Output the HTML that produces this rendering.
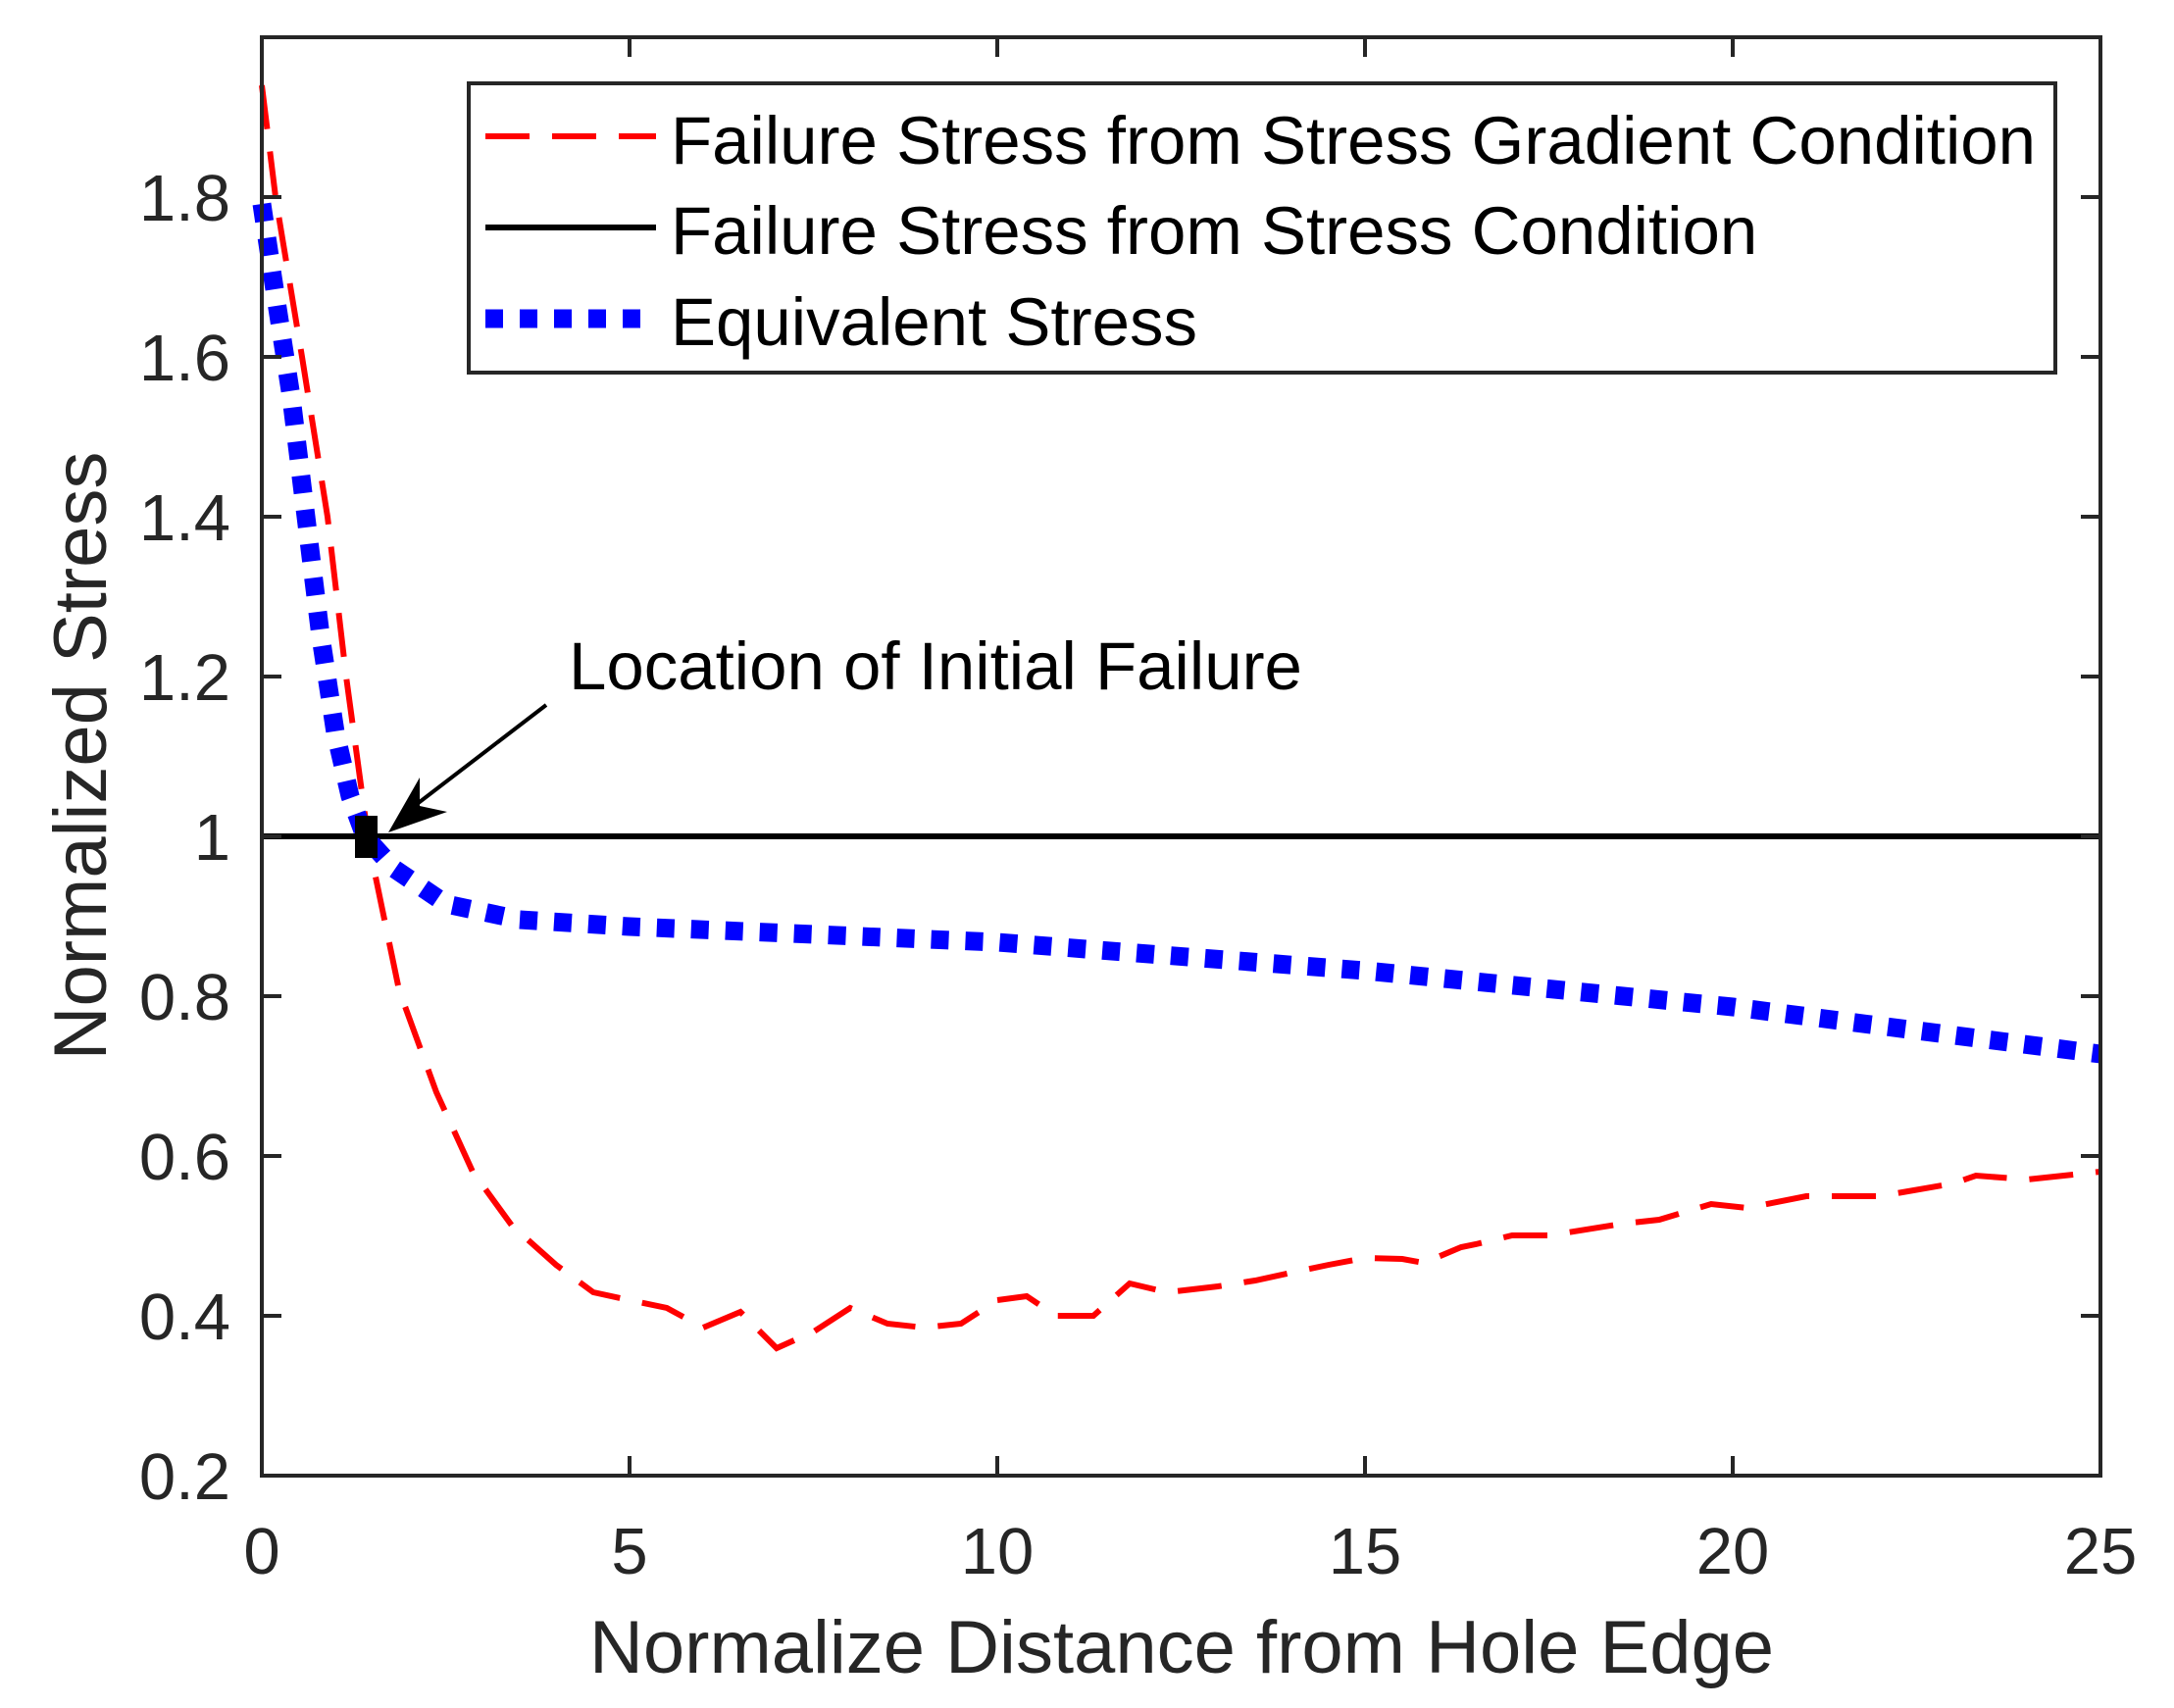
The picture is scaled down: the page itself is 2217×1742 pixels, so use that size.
<!DOCTYPE html>
<html><head><meta charset="utf-8"><style>html,body{margin:0;padding:0;background:#fff}svg{display:block}</style></head>
<body>
<svg width="2217" height="1742" viewBox="0 0 2217 1742" xmlns="http://www.w3.org/2000/svg" font-family="Liberation Sans, sans-serif">
<rect width="2217" height="1742" fill="#fff"/>
<polyline fill="none" stroke="#ff0000" stroke-width="6" stroke-dasharray="45 23"
 points="267,87 281,201 308,364 334,527 353,690 372,830 379,875 407,1010 445,1114 482,1195 522,1250 567,1290 605,1318 642,1326 680,1334 717,1354 755,1338 792,1375 830,1358 867,1334 905,1350 942,1354 980,1350 1017,1326 1047,1322 1077,1342 1115,1342 1152,1309 1190,1318 1242,1312 1280,1306 1317,1298 1355,1290 1392,1283 1430,1284 1452,1288 1490,1272 1505,1269 1542,1260 1580,1260 1655,1248 1692,1244 1745,1228 1782,1232 1842,1220 1917,1220 1992,1207 2015,1199 2067,1203 2142,1195"/>
<line x1="267" y1="853" x2="2142" y2="853" stroke="#000" stroke-width="6"/>
<polyline fill="none" stroke="#0000ff" stroke-width="19" stroke-dasharray="18 17"
 points="267,208 278,282 297,405 312,527 327,649 342,747 357,812 372,853 402,886 455,922 530,938 642,945 1017,961 1392,990 1767,1027 2142,1075"/>
<rect x="362" y="832" width="23" height="43" fill="#000"/>
<line x1="557" y1="719" x2="420" y2="824" stroke="#000" stroke-width="4"/>
<polygon points="396,849 428,793 428,822 456,828" fill="#000"/>
<text x="580" y="703" font-size="69" fill="#000">Location of Initial Failure</text>
<rect x="267" y="38" width="1875" height="1467" fill="none" stroke="#262626" stroke-width="4"/>
<g stroke="#262626" stroke-width="4">
<line x1="642" y1="1505" x2="642" y2="1485"/><line x1="1017" y1="1505" x2="1017" y2="1485"/><line x1="1392" y1="1505" x2="1392" y2="1485"/><line x1="1767" y1="1505" x2="1767" y2="1485"/>
<line x1="642" y1="38" x2="642" y2="58"/><line x1="1017" y1="38" x2="1017" y2="58"/><line x1="1392" y1="38" x2="1392" y2="58"/><line x1="1767" y1="38" x2="1767" y2="58"/>
<line x1="267" y1="1342" x2="287" y2="1342"/><line x1="267" y1="1179" x2="287" y2="1179"/><line x1="267" y1="1016" x2="287" y2="1016"/><line x1="267" y1="853" x2="287" y2="853"/><line x1="267" y1="690" x2="287" y2="690"/><line x1="267" y1="527" x2="287" y2="527"/><line x1="267" y1="364" x2="287" y2="364"/><line x1="267" y1="201" x2="287" y2="201"/>
<line x1="2142" y1="1342" x2="2122" y2="1342"/><line x1="2142" y1="1179" x2="2122" y2="1179"/><line x1="2142" y1="1016" x2="2122" y2="1016"/><line x1="2142" y1="853" x2="2122" y2="853"/><line x1="2142" y1="690" x2="2122" y2="690"/><line x1="2142" y1="527" x2="2122" y2="527"/><line x1="2142" y1="364" x2="2122" y2="364"/><line x1="2142" y1="201" x2="2122" y2="201"/>
</g>
<g font-size="67" fill="#262626" text-anchor="end">
<text x="235" y="1529">0.2</text><text x="235" y="1366">0.4</text><text x="235" y="1203">0.6</text><text x="235" y="1040">0.8</text><text x="235" y="877">1</text><text x="235" y="714">1.2</text><text x="235" y="551">1.4</text><text x="235" y="388">1.6</text><text x="235" y="225">1.8</text>
</g>
<g font-size="67" fill="#262626" text-anchor="middle">
<text x="267" y="1605">0</text><text x="642" y="1605">5</text><text x="1017" y="1605">10</text><text x="1392" y="1605">15</text><text x="1767" y="1605">20</text><text x="2142" y="1605">25</text>
</g>
<g font-size="76" fill="#262626" text-anchor="middle">
<text x="1205" y="1706">Normalize Distance from Hole Edge</text>
<text transform="translate(108,771) rotate(-90)">Normalized Stress</text>
</g>
<rect x="478" y="85" width="1618" height="295" fill="#fff" stroke="#262626" stroke-width="4"/>
<line x1="495" y1="139" x2="669" y2="139" stroke="#ff0000" stroke-width="6" stroke-dasharray="45 23"/>
<line x1="495" y1="232" x2="669" y2="232" stroke="#000" stroke-width="6"/>
<line x1="495" y1="325" x2="660" y2="325" stroke="#0000ff" stroke-width="19" stroke-dasharray="18 17"/>
<g font-size="69" fill="#000">
<text x="684" y="167">Failure Stress from Stress Gradient Condition</text>
<text x="684" y="259">Failure Stress from Stress Condition</text>
<text x="684" y="352">Equivalent Stress</text>
</g>
</svg>
</body></html>
